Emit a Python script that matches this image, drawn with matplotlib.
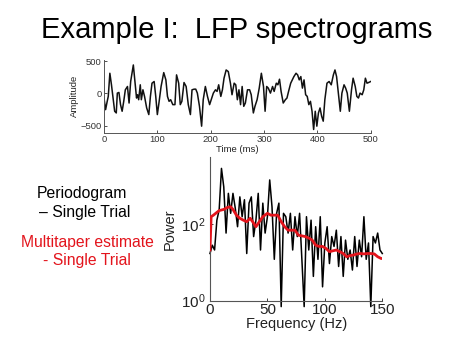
import matplotlib
matplotlib.use("Agg")
import matplotlib.pyplot as plt
import numpy as np

plt.rcParams['font.family'] = ['Liberation Sans', 'DejaVu Sans']

# LFP trace, single trial (time in ms, amplitude)
time_ms = [0, 3, 6, 8, 11, 14, 17, 20, 23, 25, 28, 31, 34, 37, 40, 44, 47, 50, 55, 58,
           61, 63, 65, 68, 70, 73, 76, 80, 84, 87, 90, 94, 97, 100, 103, 107, 112, 116, 119, 122,
           125, 129, 133, 136, 140, 143, 146, 150, 154, 158, 162, 165, 169, 172, 175, 179, 183, 186, 190, 194,
           198, 202, 205, 209, 212, 215, 219, 222, 225, 229, 233, 237, 240, 244, 247, 250, 253, 256, 259, 262,
           265, 269, 273, 276, 280, 283, 287, 291, 295, 299, 302, 305, 308, 312, 316, 319, 323, 326, 329, 332,
           336, 340, 343, 346, 350, 353, 356, 360, 363, 366, 369, 372, 375, 378, 381, 384, 387, 390, 393, 396,
           399, 402, 405, 408, 411, 414, 418, 422, 426, 430, 433, 436, 440, 443, 446, 450, 453, 456, 460, 464,
           467, 471, 474, 477, 480, 484, 487, 490, 493, 496, 500]
amplitude = [-71, -250, -122, -46, 311, 133, -71, -275, -301, 5, 15, -173, -275, -122, 56, 107, -148, 184, 439, 184,
             -71, -20, -97, 133, -97, 56, -46, -224, -326, -46, 158, 184, -46, -326, -148, 107, 321, 209, -46, -122,
             -97, -173, -173, 286, 158, -173, -122, 168, 107, -173, -326, 56, 66, 66, 5, -199, -505, -97, 107, -46,
             -173, -71, 5, 56, 31, 133, -46, 56, 235, 362, 337, 158, -20, 158, 133, -97, 56, -173, 107, -199,
             -148, 56, 56, -20, -301, -199, -97, 82, 311, 107, -275, 107, 82, 5, 107, 31, 158, 133, 219, 31,
             -148, -97, -71, 31, 158, 209, 260, 311, 286, 209, 260, 82, 209, -20, -46, -173, -122, -275, -556, -275,
             -505, -301, -224, -352, -428, -97, 158, 184, 133, 286, 362, 260, -46, -275, 5, 133, 82, 5, -275, 56,
             235, 107, -46, -71, 5, -20, 56, 235, 158, 168, 184]

# periodogram, every 2 Hz from 0 to 150
pgram_freq = list(range(0, 151, 2))
pgram_power = [17, 28, 21, 126, 234, 2820, 930, 58, 630, 190,
               630, 260, 85, 510, 155, 430, 17, 350, 510, 47,
               126, 630, 21, 350, 58, 155, 1410, 280, 12, 190,
               350, 0.7, 190, 155, 58, 190, 21, 155, 47, 190,
               12, 0.7, 155, 21, 126, 4.3, 85, 12, 155, 2.3,
               32, 85, 9.3, 47, 26, 69, 7.8, 47, 4.3, 38,
               12, 21, 6.3, 47, 7.8, 38, 14, 155, 12, 32,
               0.7, 47, 32, 58, 21, 17]

# multitaper estimate
mt_freq = [0, 1, 3, 5, 8, 12, 15, 18, 20, 23, 26, 29, 32, 35, 38, 40, 43, 46, 50, 53,
           56, 59, 62, 65, 68, 71, 74, 77, 80, 83, 86, 89, 92, 95, 98, 101, 104, 107, 110, 113,
           116, 119, 122, 125, 128, 131, 134, 137, 140, 143, 146, 149, 150]
mt_power = [21, 155, 170, 190, 224, 240, 269, 282, 240, 170, 141, 126, 115, 141, 105, 85, 115, 155, 190, 170,
            170, 170, 115, 85, 69, 69, 69, 51, 49, 47, 43, 38, 28, 26, 26, 23, 19, 20, 21, 19,
            17, 14, 15, 15.5, 16.6, 17, 16.6, 17, 17, 16.6, 14, 12.6, 12.6]

red = '#e3141c'
spine_col = '#555555'

fig = plt.figure(figsize=(4.74, 3.55), dpi=100)

fig.text(0.499, 0.893, 'Example I:  LFP spectrograms', ha='center', va='baseline', fontsize=21)

# top panel: raw trace
ax1 = fig.add_axes([0.2194, 0.6254, 0.5627, 0.2064])
ax1.plot(time_ms, amplitude, color='#111111', lw=1.1)
ax1.set_xlim(0, 500)
ax1.set_ylim(-610, 520)
ax1.set_xticks([0, 100, 200, 300, 400, 500])
ax1.set_yticks([-500, 0, 500])
ax1.set_xlabel('Time (ms)', fontsize=6.8, labelpad=0.5, color='#222222')
ax1.set_ylabel('Amplitude', fontsize=6.8, labelpad=1, color='#222222')
ax1.tick_params(direction='in', length=2.5, width=0.6, labelsize=6.8, pad=1.5, colors='#333333')
for s in ['top', 'right']:
    ax1.spines[s].set_visible(False)
for s in ['left', 'bottom']:
    ax1.spines[s].set_color(spine_col)
    ax1.spines[s].set_linewidth(0.7)

# bottom panel: spectra
ax2 = fig.add_axes([0.443, 0.153, 0.3635, 0.405])
ax2.plot(pgram_freq, pgram_power, color='black', lw=1.1, clip_on=False, zorder=2)
ax2.plot(mt_freq, mt_power, color=red, lw=2.0, zorder=3)
ax2.set_yscale('log')
ax2.set_xlim(0, 150)
ax2.set_ylim(1, 10 ** 3.75)
ax2.set_xticks([0, 50, 100, 150])
ax2.set_yticks([1, 100])
ax2.minorticks_off()
ax2.set_xlabel('Frequency (Hz)', fontsize=10.5, labelpad=0, color='#222222')
ax2.set_ylabel('Power', fontsize=10.5, labelpad=3, color='#222222')
ax2.tick_params(axis='x', direction='in', length=2.5, width=0.6, labelsize=11, pad=2, colors='#222222')
ax2.tick_params(axis='y', direction='in', length=2.5, width=0.6, labelsize=11, pad=3, colors='#222222')
for s in ['top', 'right']:
    ax2.spines[s].set_visible(False)
for s in ['left', 'bottom']:
    ax2.spines[s].set_color(spine_col)
    ax2.spines[s].set_linewidth(0.8)

# side annotations
fig.text(81.7 / 474, 1 - 198.3 / 355, 'Periodogram', ha='center', va='baseline', fontsize=11.3)
fig.text(85 / 474, 1 - 216.7 / 355, '\u2013 Single Trial', ha='center', va='baseline', fontsize=11.3)
fig.text(87 / 474, 1 - 247.3 / 355, 'Multitaper estimate', ha='center', va='baseline', fontsize=11.3, color=red)
fig.text(87 / 474, 1 - 265 / 355, '- Single Trial', ha='center', va='baseline', fontsize=11.3, color=red)

fig.savefig('out.png', dpi=100)
